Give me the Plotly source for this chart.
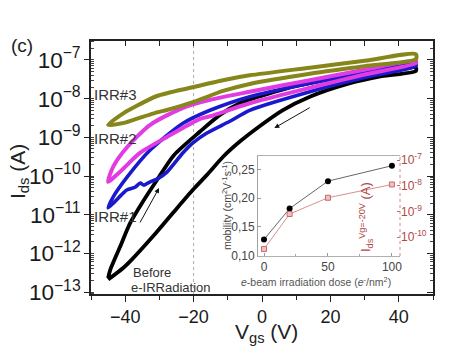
import plotly.graph_objects as go

# ---------------- main plot data (Vgs in V, Ids in A) ----------------
vgs_before = [-45, -44.4, -41.5, -38.5, -34.8, -30.7, -25.7, -18.1, -12.3, -6.5, 0, 7, 14, 25.6, 35, 45,
              45, 35, 25, 14, 6, -0.5, -6.4, -11.3, -16.1, -20.2, -26, -31.8, -38.5, -40.6, -45]
ids_before = [2.3e-13, 3.7e-13, 1.48e-12, 6.2e-12, 2.2e-11, 7.9e-11, 3.5e-10, 1.41e-9, 3.8e-9, 7.6e-9,
              1.2e-8, 1.82e-8, 2.5e-8, 3.8e-8, 5.0e-8, 6.3e-8,
              5.2e-8, 3.8e-8, 2.4e-8, 1.12e-8, 5.0e-9, 2.0e-9, 7.9e-10, 3.2e-10, 1.07e-10, 4.4e-11,
              1.12e-11, 2.8e-12, 6.3e-13, 4.2e-13, 2.1e-13]

vgs_irr1 = [-45, -43.5, -39.4, -32.7, -23.1, -15.2, -3.6, 14, 30, 45,
            45, 30, 14, -3.6, -9.4, -16.1, -20.2, -23.1, -27.8, -30.7, -32.7, -34.5, -35.6, -37, -39.4,
            -40.6, -45]
ids_irr1 = [1.51e-11, 2.9e-11, 9.5e-11, 4.7e-10, 2.3e-9, 5.0e-9, 1.12e-8, 2.5e-8, 4.7e-8, 7.9e-8,
            6.9e-8, 3.5e-8, 1.51e-8, 5.0e-9, 2.6e-9, 1.29e-9, 7.2e-10, 4.0e-10, 1.26e-10, 8.3e-11,
            7.1e-11, 5.8e-11, 6.6e-11, 5.2e-11, 4.4e-11, 3.6e-11, 1.51e-11]

vgs_irr2 = [-45, -43.5, -39.4, -32.7, -23.1, -15.2, -3.6, 14, 30, 45,
            45, 30, 14, -3.6, -15.2, -18.1, -27.8, -35.6, -41.5, -45]
ids_irr2 = [7.1e-11, 1.74e-10, 5.6e-10, 2.1e-9, 5.8e-9, 9.3e-9, 1.51e-8, 3.0e-8, 5.6e-8, 9.5e-8,
            8.3e-8, 4.2e-8, 1.91e-8, 7.6e-9, 3.5e-9, 3.0e-9, 1.02e-9, 4.0e-10, 1.29e-10, 7.1e-11]

vgs_irr3 = [-45, -40, -37.7, -30.7, -21, -11.4, -3.6, 14, 30, 45,
            45, 30, 14, -3.6, -11.4, -20.2, -27.8, -30.7, -37.7, -40, -45]
ids_irr3 = [2.1e-9, 4.5e-9, 5.8e-9, 1.17e-8, 1.91e-8, 3.0e-8, 4.0e-8, 6.3e-8, 9.5e-8, 1.41e-7,
            1.05e-7, 6.9e-8, 4.4e-8, 2.4e-8, 1.58e-8, 8.1e-9, 5.1e-9, 4.4e-9, 2.8e-9, 2.4e-9, 2.1e-9]

x_ticks = [-40, -20, 0, 20, 40]

# ---------------- inset data ----------------
dose = [0, 20, 50, 100]
mobility = [0.128, 0.182, 0.230, 0.257]
ids_at_m20 = [3.4e-11, 7.9e-10, 3.4e-9, 1.12e-8]
inset_y_ticks = [0.10, 0.15, 0.20, 0.25]
inset_y_labels = ["0,10", "0,15", "0,20", "0,25"]
inset_r_ticks = [1e-10, 1e-9, 1e-8, 1e-7]
inset_r_labels = ["10<sup>-10</sup>", "10<sup>-9</sup>", "10<sup>-8</sup>", "10<sup>-7</sup>"]

FONT = "Arial, Liberation Sans, sans-serif"

# main plot geometry (paper coords helpers)
L, R, T, B = 91, 433, 41, 294
W = R - L
H = B - T


def px(x):
    return (x - L) / W


def py(y):
    return (B - y) / H


fig = go.Figure()

curves = [
    (vgs_before, ids_before, "#000000", 3.8),
    (vgs_irr1, ids_irr1, "#1a1acc", 3.6),
    (vgs_irr2, ids_irr2, "#e23be2", 4),
    (vgs_irr3, ids_irr3, "#86861a", 4),
]
for xs, ys, col, w in curves:
    fig.add_trace(go.Scatter(x=xs, y=ys, mode="lines",
                             line=dict(color=col, width=w, shape="spline", smoothing=0.7),
                             showlegend=False, hoverinfo="skip", xaxis="x", yaxis="y"))

# invisible trace so that the mirrored tick axes are drawn
fig.add_trace(go.Scatter(x=[-50], y=[1e-13], mode="markers", marker=dict(opacity=0),
                         showlegend=False, hoverinfo="skip", xaxis="x2", yaxis="y2"))

# inset traces
fig.add_trace(go.Scatter(x=dose, y=mobility, mode="lines+markers",
                         line=dict(color="#666666", width=1),
                         marker=dict(color="#000000", size=6, symbol="circle"),
                         showlegend=False, hoverinfo="skip", xaxis="x3", yaxis="y3"))
fig.add_trace(go.Scatter(x=dose, y=ids_at_m20, mode="lines+markers",
                         line=dict(color="#d9908f", width=1),
                         marker=dict(color="#f0c0c0", size=5, symbol="square",
                                     line=dict(color="#c86a6a", width=1)),
                         showlegend=False, hoverinfo="skip", xaxis="x3", yaxis="y4"))

ix0, ix1 = px(258), px(400)
iy0, iy1 = py(256), py(156)

fig.update_layout(
    width=474, height=352,
    margin=dict(l=L, r=474 - R, t=T, b=352 - B),
    paper_bgcolor="white", plot_bgcolor="rgba(0,0,0,0)",
    font=dict(family=FONT, color="#1a1a1a"),
    xaxis=dict(domain=[0, 1], range=[-50, 50], tickvals=x_ticks, ticks="outside", ticklen=6,
               tickwidth=1.2, tickcolor="#222",
               minor=dict(dtick=10, tick0=0, ticks="outside", ticklen=4, tickcolor="#222"),
               showline=True, linecolor="#222", linewidth=1.5, mirror=True,
               showgrid=False, zeroline=False, tickfont=dict(size=18, family=FONT)),
    xaxis2=dict(overlaying="x", side="top", anchor="y", range=[-50, 50], dtick=10, tick0=0,
                ticks="inside", ticklen=5, tickcolor="#222", showticklabels=False,
                showline=False, showgrid=False, zeroline=False),
    yaxis=dict(domain=[0, 1], type="log", range=[-13.05, -6.51], dtick=1,
               exponentformat="power", showexponent="all",
               ticks="outside", ticklen=5, tickcolor="#222",
               minor=dict(ticks="inside", ticklen=3, tickcolor="#444"),
               showline=True, linecolor="#222", linewidth=1.5, mirror=True,
               showgrid=False, zeroline=False, tickfont=dict(size=18, family=FONT)),
    yaxis2=dict(overlaying="y", side="right", anchor="x", type="log", range=[-13.05, -6.51], dtick=1,
                ticks="inside", ticklen=6, tickcolor="#222",
                minor=dict(ticks="inside", ticklen=3, tickcolor="#444"),
                showticklabels=False, showline=False, showgrid=False, zeroline=False),
    xaxis3=dict(domain=[ix0, ix1], anchor="y3", range=[-4.7, 106.3], tickvals=[0, 50, 100],
                ticks="inside", ticklen=3, tickcolor="#999",
                minor=dict(dtick=25, tick0=0, ticks="inside", ticklen=2, tickcolor="#aaa"),
                showline=True, linecolor="#b0b0b0", linewidth=1, mirror=True,
                showgrid=False, zeroline=False, tickfont=dict(size=12, color="#444", family=FONT)),
    yaxis3=dict(domain=[iy0, iy1], anchor="x3", range=[0.099, 0.274],
                tickvals=inset_y_ticks, ticktext=inset_y_labels,
                ticks="inside", ticklen=3, tickcolor="#999",
                showline=True, linecolor="#a0a0a0", linewidth=1,
                showgrid=False, zeroline=False, tickfont=dict(size=12, color="#444", family=FONT)),
    yaxis4=dict(overlaying="y3", side="right", anchor="x3", type="log", range=[-10.74, -6.84],
                tickvals=inset_r_ticks, ticktext=inset_r_labels,
                ticks="inside", ticklen=3, tickcolor="#c46a6a",
                showline=False, showgrid=False, zeroline=False,
                tickfont=dict(size=12, color="#b04848", family=FONT)),
)

shapes = [
    dict(type="line", xref="x", yref="paper", x0=-20, x1=-20, y0=0, y1=1,
         line=dict(color="#aaaaaa", width=1, dash="dot"), layer="below"),
    dict(type="line", xref="paper", yref="paper", x0=ix1, x1=ix1, y0=iy0, y1=iy1,
         line=dict(color="#d48888", width=1, dash="dot")),
]
fig.update_layout(shapes=shapes)


def label(x, y, text, size, color="#222", xanchor="center", angle=0):
    return dict(xref="paper", yref="paper", x=px(x), y=py(y), text=text, showarrow=False,
                xanchor=xanchor, yanchor="middle", textangle=angle,
                font=dict(size=size, family=FONT, color=color))


ann = [
    label(22, 45, "(c)", 19),
    label(19, 172, "I<sub>ds</sub> (A)", 21, angle=-90),
    label(266, 333, "V<sub>gs</sub> (V)", 21),
    label(92, 94, "IRR#3", 15, "#333", "left"),
    label(92, 138, "IRR#2", 15, "#333", "left"),
    label(92, 216, "IRR#1", 15, "#333", "left"),
    label(131, 272, "Before", 13, "#333", "left"),
    label(129, 287, "e-IRRadiation", 13, "#333", "left"),
    label(316, 281, "<i>e</i>-beam irradiation dose (<i>e</i><sup>-</sup>/nm<sup>2</sup>)", 10.5, "#555"),
    label(226, 206, "mobility (cm<sup>2</sup>V<sup>-1</sup>s<sup>-1</sup>)", 10.5, "#444", angle=-90),
    label(366, 217, "I<sub>ds</sub><sup>Vg=-20V</sup> (A)", 13, "#b04848", angle=-90),
]
# sweep arrows
ann.append(dict(xref="x", yref="y", axref="x", ayref="y", x=-30.1, y=-10.31, ax=-35.9, ay=-11.24,
                text="", showarrow=True, arrowhead=2, arrowsize=1, arrowwidth=1, arrowcolor="#111"))
ann.append(dict(xref="x", yref="y", axref="x", ayref="y", x=3.6, y=-8.76, ax=14.4, ay=-8.21,
                text="", showarrow=True, arrowhead=2, arrowsize=1, arrowwidth=1, arrowcolor="#111"))
fig.update_layout(annotations=ann)

fig.write_html("out.html")
